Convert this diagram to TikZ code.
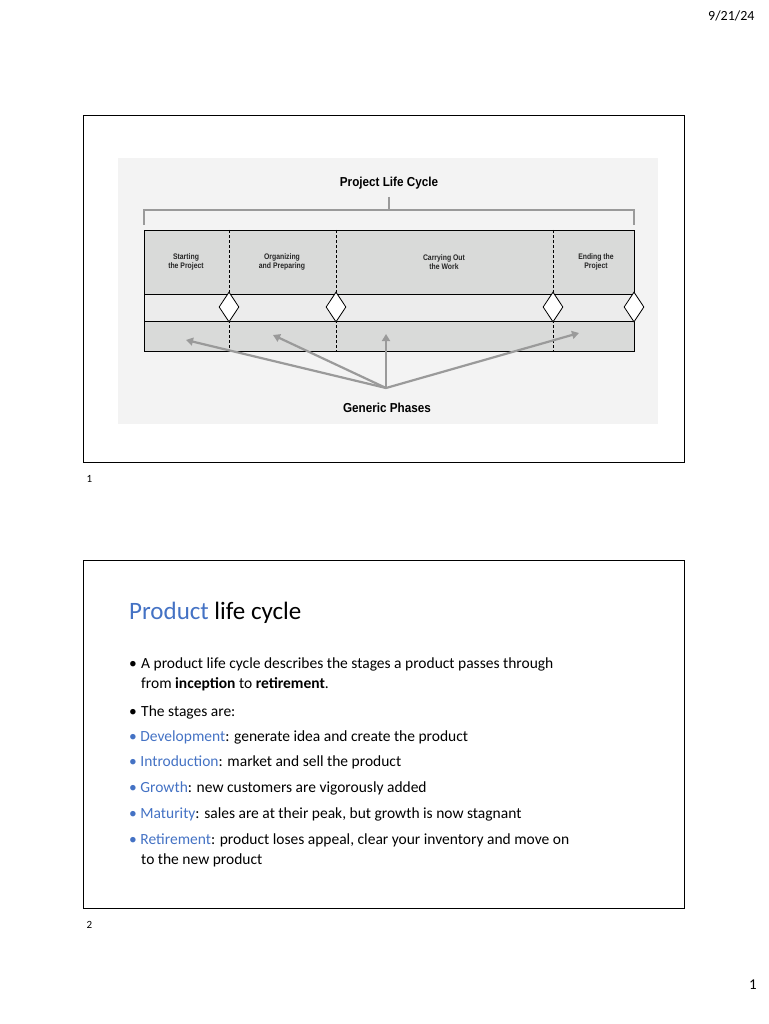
\documentclass[tikz,border=0pt]{standalone}
\usepackage{fontspec}
\setmainfont{Carlito}
\newfontfamily\diag{Liberation Sans}
\usetikzlibrary{shapes.geometric,arrows.meta}
\definecolor{pblue}{HTML}{4472C4}
\definecolor{bgg}{HTML}{F3F3F3}
\definecolor{boxg}{HTML}{D9DAD9}
\definecolor{bandg}{HTML}{ECECEC}
\definecolor{arrg}{HTML}{9A9A9A}
\begin{document}
\begin{tikzpicture}[x=1pt,y=-1pt,
  frame/.style={draw=black,line width=0.8pt},
  phase/.style={font=\diag\fontsize{8.5}{10}\selectfont\bfseries,align=center,text=black!85,scale=0.95,xscale=0.85},
  ms/.style={diamond,draw=black,fill=white,line width=0.8pt,minimum width=20pt,minimum height=30pt,inner sep=0pt},
  garr/.style={draw=arrg,line width=2.2pt,-{Triangle[length=7pt,width=8pt]}},
  bul/.style={anchor=base west,font=\fontsize{15.5}{18}\selectfont,inner sep=0pt}]
\useasboundingbox (0,0) rectangle (768,1024);
\node[anchor=base east,font=\fontsize{14}{16}\selectfont] (date) at (758,21) {9/21/24};
\node[anchor=base,font=\fontsize{15}{17}\selectfont] (pg) at (753,989) {1};
% slide 1
\node[frame,minimum width=601pt,minimum height=347pt,anchor=north west,inner sep=0pt] (s1) at (83,115) {};
\node[anchor=base west,font=\fontsize{11}{13}\selectfont] (n1) at (83,482) {1};
\fill[bgg] (118,158) rectangle (658,424);
\node[font=\diag\fontsize{13}{15}\selectfont\bfseries,xscale=0.9] (plc) at (389,183) {Project Life Cycle};
\draw[arrg,line width=2pt] (389,197) -- (389,210) (144,225) -- (144,210) -- (634,210) -- (634,225);
\node[draw=black,fill=boxg,line width=1pt,anchor=north west,minimum width=490pt,minimum height=121pt,inner sep=0pt] (box) at (144,230) {};
\draw[fill=bandg,line width=1pt] (144,294) rectangle (634,321);
\foreach \x/\n in {229/a,336/b,553/c}{
  \draw[densely dashed,line width=0.6pt] (\x,230) -- (\x,351);
  \node[ms] (d\n) at (\x,307) {};}
\node[ms] (dd) at (634,307) {};
\node[phase] (p1) at (186,262) {Starting\\the Project};
\node[phase] (p2) at (282,262) {Organizing\\and Preparing};
\node[phase] (p3) at (444,262) {Carrying Out\\the Work};
\node[phase] (p4) at (596,262) {Ending the\\Project};
\coordinate (src) at (386,388);
\coordinate (t1) at (186,340);
\coordinate (t2) at (273,335);
\coordinate (t3) at (386,334);
\coordinate (t4) at (579,333);
\foreach \t in {t1,t2,t3,t4}{\draw[garr] (src) -- (\t);}
\node[font=\diag\fontsize{13}{15}\selectfont\bfseries,xscale=0.9] (gp) at (387,408) {Generic Phases};
% slide 2
\node[frame,minimum width=601pt,minimum height=348pt,anchor=north west,inner sep=0pt] (s2) at (83,560) {};
\node[anchor=base west,font=\fontsize{11}{13}\selectfont] (n2) at (83,928) {2};
\node[anchor=base west,font=\fontsize{25}{28}\selectfont,inner sep=0pt] (title) at (129,619) {\textcolor{pblue}{Product} life cycle};
\node[bul] (b0) at (129,668) {•};
\node[bul] (l0) at (141,668) {A product life cycle describes the stages a product passes through};
\node[bul] (l0b) at (141,688) {from \textbf{inception} to \textbf{retirement}.};
\node[bul] (b1) at (129,716) {•};
\node[bul] (l1) at (141,716) {The stages are:};
\node[bul] (l2) at (129,741) {\textcolor{pblue}{• Development}: generate idea and create the product};
\node[bul] (l3) at (129,766) {\textcolor{pblue}{• Introduction}: market and sell the product};
\node[bul] (l4) at (129,792) {\textcolor{pblue}{• Growth}: new customers are vigorously added};
\node[bul] (l5) at (129,818) {\textcolor{pblue}{• Maturity}: sales are at their peak, but growth is now stagnant};
\node[bul] (l6) at (129,844) {\textcolor{pblue}{• Retirement}: product loses appeal, clear your inventory and move on};
\node[bul] (l6b) at (141,864) {to the new product};
\end{tikzpicture}
\end{document}
